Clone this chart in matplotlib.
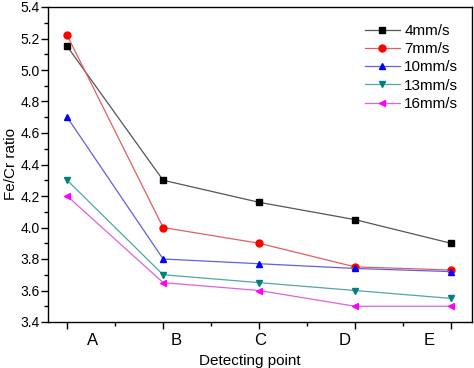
import numpy as np
import matplotlib
matplotlib.use("Agg")
from matplotlib import pyplot as plt
from matplotlib.ticker import MultipleLocator, NullFormatter

points = ["A", "B", "C", "D", "E"]
speeds = ["4mm/s", "7mm/s", "10mm/s", "13mm/s", "16mm/s"]
v4 = [5.15, 4.30, 4.16, 4.05, 3.90]
v7 = [5.22, 4.00, 3.90, 3.75, 3.73]
v10 = [4.70, 3.80, 3.77, 3.74, 3.72]
v13 = [4.30, 3.70, 3.65, 3.60, 3.55]
v16 = [4.20, 3.65, 3.60, 3.50, 3.50]

plt.rcParams['font.family'] = ['Liberation Sans', 'DejaVu Sans']

fig = plt.figure(figsize=(4.74, 3.68), dpi=100)
ax = fig.add_axes([48 / 474, 1 - 322 / 368, 424 / 474, 315 / 368])

x = np.arange(len(points))
styles = [
    (v4, "black", "#555555", "s"),
    (v7, "red", "#e06060", "o"),
    (v10, "blue", "#6060e0", "^"),
    (v13, "#008080", "#50a8a0", "v"),
    (v16, "magenta", "#e060e0", "<"),
]
for (vals, mc, lc, m), name in zip(styles, speeds):
    ax.plot(x, vals, color=lc, lw=0.9, marker=m, ms=5,
            mfc=mc, mec=mc, label=name)

ax.set_xlim(-0.2, 4.22)
ax.set_ylim(3.4, 5.4)
ax.set_xticks(x)
ax.xaxis.set_major_formatter(NullFormatter())
ax.xaxis.set_minor_locator(MultipleLocator(0.5))
ax.yaxis.set_major_locator(MultipleLocator(0.2))
ax.yaxis.set_minor_locator(MultipleLocator(0.1))
ax.tick_params(which="major", direction="out", length=5, width=1)
ax.tick_params(which="minor", direction="out", length=3, width=1)
ax.tick_params(axis="y", labelsize=10, pad=1)

# category labels sit on their own, evenly spread a bit inside the ticks
label_pos = np.linspace(0.26, 3.77, len(points))
for px, name in zip(label_pos, points):
    ax.text(px, -0.06, name, transform=ax.get_xaxis_transform(),
            ha="center", va="center", fontsize=12)

for s in ax.spines.values():
    s.set_linewidth(1.0)

ax.set_xlabel("Detecting point", fontsize=11, labelpad=0)
ax.xaxis.set_label_coords(0.477, -0.1)
ax.set_ylabel("Fe/Cr ratio", fontsize=11, labelpad=2)

ax.legend(loc="upper right", bbox_to_anchor=(1.0, 0.99), frameon=False,
          fontsize=11, handlelength=2.3, handletextpad=0.3, labelspacing=0.28)

fig.savefig("out.png", dpi=100)
